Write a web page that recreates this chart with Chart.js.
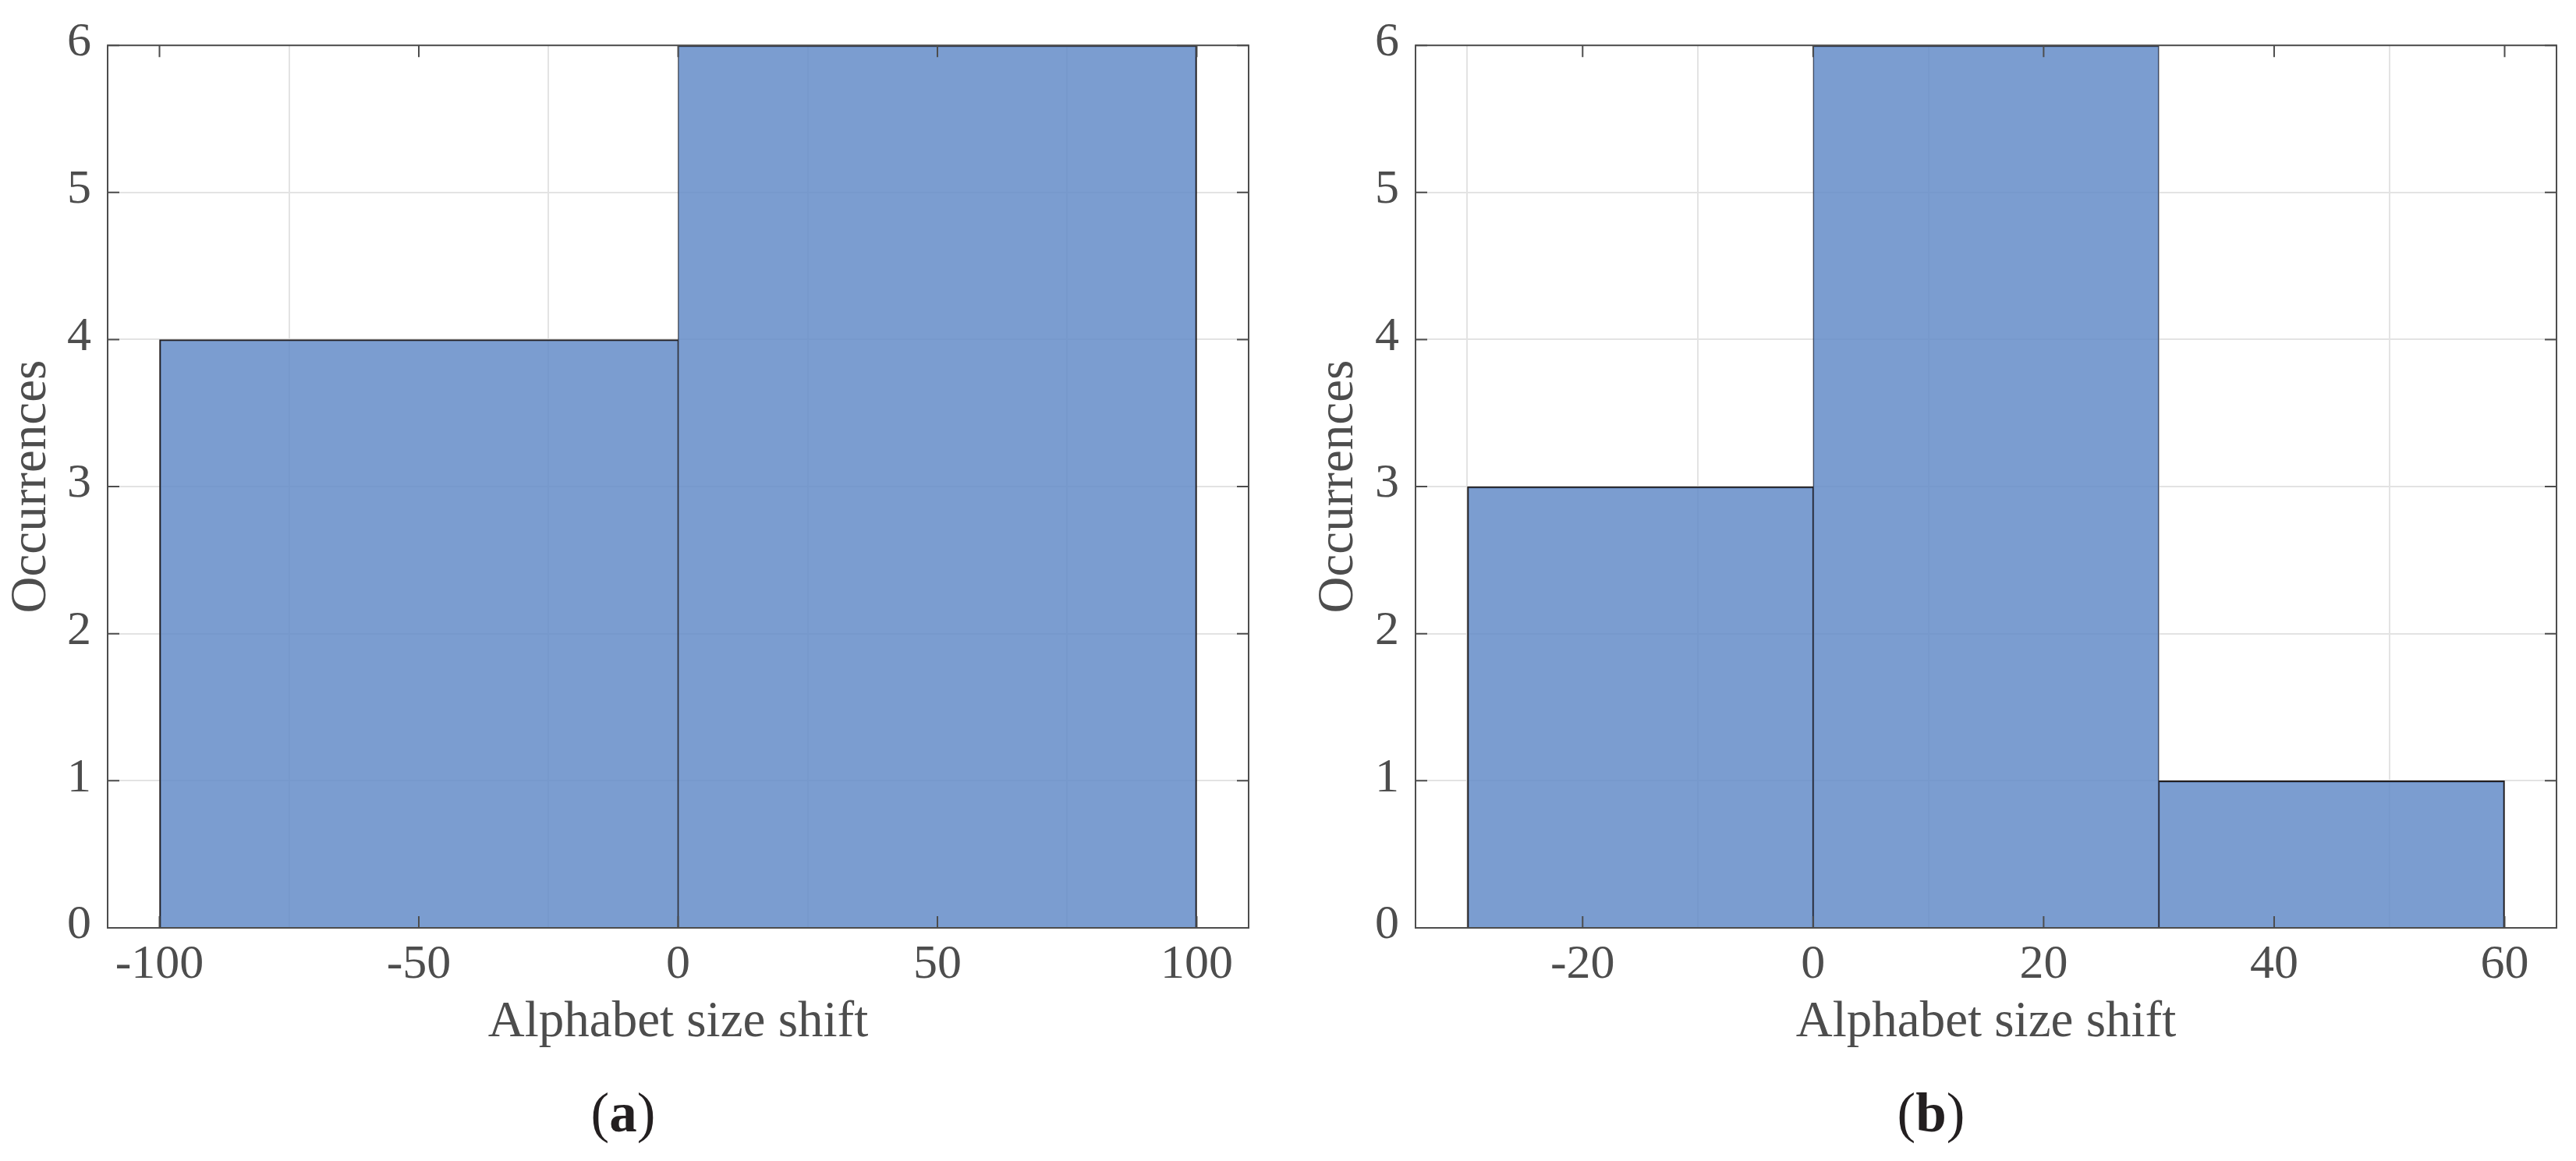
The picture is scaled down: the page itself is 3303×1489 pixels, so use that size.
<!DOCTYPE html>
<html>
<head>
<meta charset="utf-8">
<script src="https://cdn.jsdelivr.net/npm/chart.js@4.4.1/dist/chart.umd.min.js"></script>
<style>
  html, body { margin: 0; padding: 0; background: #fff; }
  body { width: 3303px; height: 1489px; position: relative; overflow: hidden; }
  canvas { position: absolute; top: 0; }
  #histA { left: 0; }
  #histB { left: 1651px; }
  .caption {
    position: absolute;
    top: 1392px;
    font-family: 'Liberation Serif', serif;
    font-size: 71px;
    line-height: 71px;
    color: #231f20;
    text-align: center;
  }
</style>
</head>
<body>
<canvas id="histA" width="1651" height="1489"></canvas>
<canvas id="histB" width="1652" height="1489"></canvas>
<div class="caption" style="left:0;width:1598px">(<b>a</b>)</div>
<div class="caption" style="left:1651px;width:1650px">(<b>b</b>)</div>
<script>
// histogram (a)
const binEdgesA = [-100, 0, 100];
const countsA = [4, 6];
const xTicksA = [-100, -50, 0, 50, 100];
const xLimA = [-110, 110];

// histogram (b)
const binEdgesB = [-30, 0, 30, 60];
const countsB = [3, 6, 1];
const xTicksB = [-20, 0, 20, 40, 60];
const xLimB = [-34.5, 64.5];

const yTicks = [0, 1, 2, 3, 4, 5, 6];
const yLim = [0, 6];

const xTitle = 'Alphabet size shift';
const yTitle = 'Occurrences';

const axisColor = '#4d4d4d';
const gridColor = '#e3e3e3';
const barFill = 'rgba(100, 140, 200, 0.85)';
const barEdge = '#231f20';
const tickLen = 15;

Chart.defaults.font.family = "'Liberation Serif', serif";
Chart.defaults.color = axisColor;

// MATLAB-style box with inward ticks on all four sides
const axisBox = {
    id: 'axisBox',
    afterDatasetsDraw(chart) {
        const { ctx, chartArea: a, scales: { x, y } } = chart;
        ctx.save();
        ctx.strokeStyle = axisColor;
        ctx.lineWidth = 2;
        ctx.beginPath();
        x.ticks.forEach(t => {
            const px = x.getPixelForValue(t.value);
            ctx.moveTo(px, a.bottom);
            ctx.lineTo(px, a.bottom - tickLen);
            ctx.moveTo(px, a.top);
            ctx.lineTo(px, a.top + tickLen);
        });
        y.ticks.forEach(t => {
            const py = y.getPixelForValue(t.value);
            ctx.moveTo(a.left, py);
            ctx.lineTo(a.left + tickLen, py);
            ctx.moveTo(a.right, py);
            ctx.lineTo(a.right - tickLen, py);
        });
        ctx.stroke();
        ctx.strokeRect(a.left, a.top, a.right - a.left, a.bottom - a.top);
        ctx.restore();
    }
};

function toBars(edges, counts) {
    return counts.map((c, i) => ({ x: (edges[i] + edges[i + 1]) / 2, y: c }));
}

function makeHist(id, edges, counts, xTicks, xLim, yWidth, yTitlePad, rightPad) {
    const last = counts.length - 1;
    return new Chart(document.getElementById(id), {
        type: 'bar',
        data: {
            datasets: [{
                data: toBars(edges, counts),
                backgroundColor: barFill,
                borderColor: barEdge,
                borderSkipped: false,
                borderWidth: ctx => ({
                    top: 2,
                    bottom: 0,
                    left: ctx.dataIndex === 0 ? 2 : 1,
                    right: ctx.dataIndex === last ? 2 : 1
                }),
                barThickness: 'flex',
                barPercentage: 1,
                categoryPercentage: 1
            }]
        },
        options: {
            responsive: false,
            animation: false,
            devicePixelRatio: 1,
            layout: { padding: { left: 0, top: 38, right: rightPad, bottom: 0 } },
            plugins: {
                legend: { display: false },
                tooltip: { enabled: false }
            },
            scales: {
                x: {
                    type: 'linear',
                    min: xLim[0],
                    max: xLim[1],
                    offset: false,
                    afterBuildTicks: s => { s.ticks = xTicks.map(v => ({ value: v })); },
                    afterFit: s => { s.height = 299; },
                    grid: { color: gridColor, lineWidth: 2, drawTicks: false },
                    border: { display: false },
                    ticks: { padding: 11, maxRotation: 0, font: { size: 62 }, color: axisColor },
                    title: {
                        display: true,
                        text: xTitle,
                        color: axisColor,
                        font: { size: 65 },
                        padding: { top: 0, bottom: 138 }
                    }
                },
                y: {
                    type: 'linear',
                    min: yLim[0],
                    max: yLim[1],
                    afterBuildTicks: s => { s.ticks = yTicks.map(v => ({ value: v })); },
                    afterFit: s => { s.width = yWidth; },
                    grid: { color: gridColor, lineWidth: 2, drawTicks: false },
                    border: { display: false },
                    ticks: { padding: 21, labelOffset: -3, font: { size: 62 }, color: axisColor },
                    title: {
                        display: true,
                        text: yTitle,
                        color: axisColor,
                        font: { size: 65 },
                        padding: { top: yTitlePad, bottom: 0 }
                    }
                }
            }
        },
        plugins: [axisBox]
    });
}

makeHist('histA', binEdgesA, countsA, xTicksA, xLimA, 138, 2, 50);
makeHist('histB', binEdgesB, countsB, xTicksB, xLimB, 164, 27, 25);
</script>
</body>
</html>
